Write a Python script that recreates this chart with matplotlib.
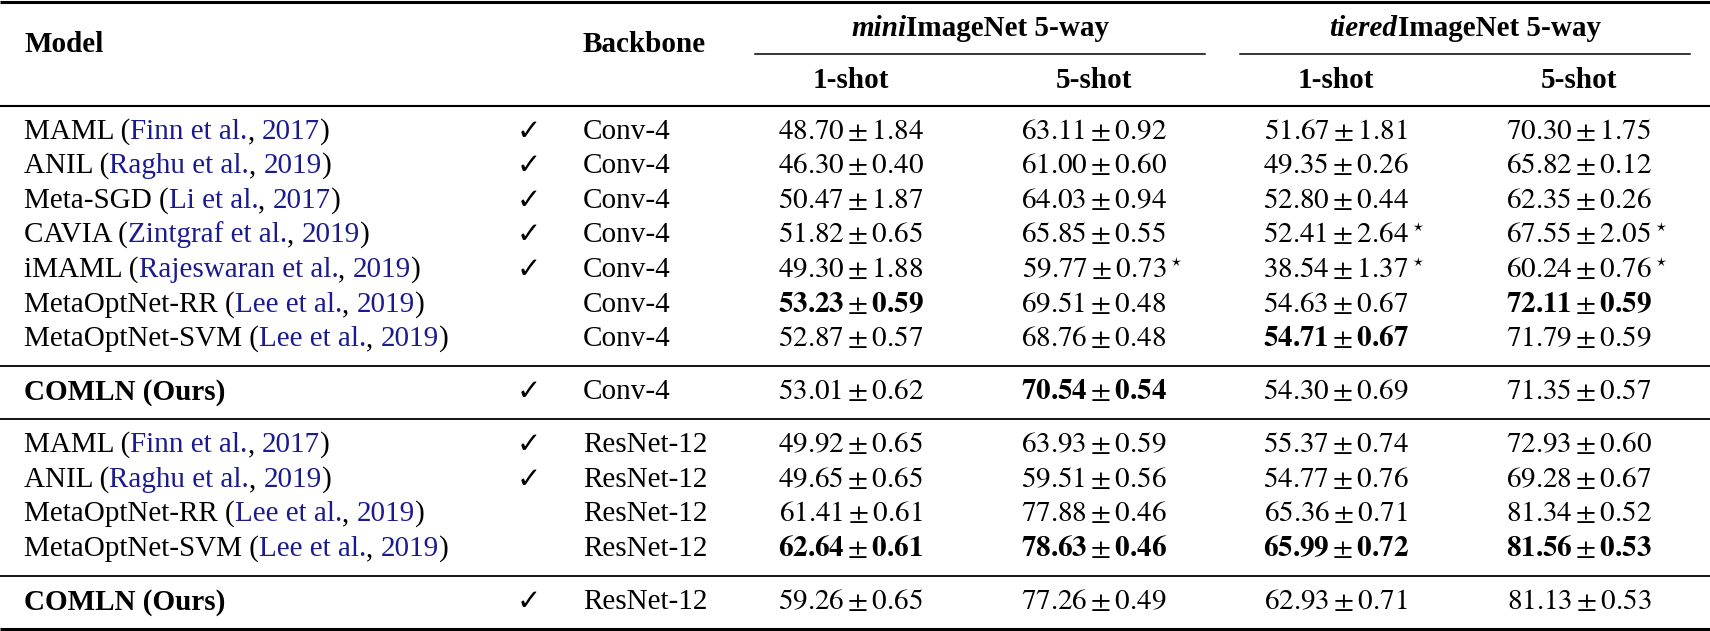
import matplotlib
matplotlib.use("Agg")
import matplotlib.pyplot as plt

plt.rcParams['font.family'] = ['Liberation Serif', 'DejaVu Serif']
plt.rcParams['mathtext.fontset'] = 'stix'

BLUE = '#1b1b8f'
FS = 21

# (name, cite authors, cite year, checkmark, backbone, values, bold flags, star flags)
models = ["MAML", "ANIL", "Meta-SGD", "CAVIA", "iMAML", "MetaOptNet-RR", "MetaOptNet-SVM", "COMLN (Ours)",
          "MAML", "ANIL", "MetaOptNet-RR", "MetaOptNet-SVM", "COMLN (Ours)"]
cite_auth = ["Finn et al.", "Raghu et al.", "Li et al.", "Zintgraf et al.", "Rajeswaran et al.", "Lee et al.",
             "Lee et al.", None, "Finn et al.", "Raghu et al.", "Lee et al.", "Lee et al.", None]
cite_year = ["2017", "2019", "2017", "2019", "2019", "2019", "2019", None, "2017", "2019", "2019", "2019", None]
checks = [1, 1, 1, 1, 1, 0, 0, 1, 1, 1, 0, 0, 1]
backbones = ["Conv-4"] * 8 + ["ResNet-12"] * 5
means = [
    [48.70, 63.11, 51.67, 70.30],
    [46.30, 61.00, 49.35, 65.82],
    [50.47, 64.03, 52.80, 62.35],
    [51.82, 65.85, 52.41, 67.55],
    [49.30, 59.77, 38.54, 60.24],
    [53.23, 69.51, 54.63, 72.11],
    [52.87, 68.76, 54.71, 71.79],
    [53.01, 70.54, 54.30, 71.35],
    [49.92, 63.93, 55.37, 72.93],
    [49.65, 59.51, 54.77, 69.28],
    [61.41, 77.88, 65.36, 81.34],
    [62.64, 78.63, 65.99, 81.56],
    [59.26, 77.26, 62.93, 81.13],
]
errs = [
    [1.84, 0.92, 1.81, 1.75],
    [0.40, 0.60, 0.26, 0.12],
    [1.87, 0.94, 0.44, 0.26],
    [0.65, 0.55, 2.64, 2.05],
    [1.88, 0.73, 1.37, 0.76],
    [0.59, 0.48, 0.67, 0.59],
    [0.57, 0.48, 0.67, 0.59],
    [0.62, 0.54, 0.69, 0.57],
    [0.65, 0.59, 0.74, 0.60],
    [0.65, 0.56, 0.76, 0.67],
    [0.61, 0.46, 0.71, 0.52],
    [0.61, 0.46, 0.72, 0.53],
    [0.65, 0.49, 0.71, 0.53],
]
bold = [(5, 0), (5, 3), (6, 2), (7, 1), (11, 0), (11, 1), (11, 2), (11, 3)]
star = [(3, 2), (3, 3), (4, 1), (4, 2), (4, 3)]

row_y = [132, 166, 201, 235, 270, 305, 339, 392, 445, 480, 514, 549, 602]
col_x = [851, 1094, 1336, 1579]

fig = plt.figure(figsize=(17.1, 6.31), dpi=100)
ax = fig.add_axes([0, 0, 1, 1])
ax.set_xlim(0, 1710)
ax.set_ylim(631, 0)
ax.axis('off')
fig.canvas.draw()
renderer = fig.canvas.get_renderer()


def pieces(x, y, parts, **kw):
    # draw consecutive text pieces, each (string, color, weight)
    for s, c, w in parts:
        t = ax.text(x, y, s, color=c, fontweight=w, fontsize=FS, va='center', ha='left', **kw)
        bb = t.get_window_extent(renderer)
        x += bb.width * 1710 / fig.bbox.width


# rules
for y, lw in [(1.5, 2.2), (106, 1.5), (366, 1.3), (419, 1.3), (576, 1.3), (629, 2.2)]:
    ax.plot([0, 1710], [y, y], color='black', lw=lw, solid_capstyle='butt')
ax.plot([755, 1205], [54, 54], color='black', lw=1.1)
ax.plot([1240, 1690], [54, 54], color='black', lw=1.1)

# headers
ax.text(24, 44, "Model", fontsize=FS, fontweight='bold', va='center')
ax.text(583, 44, "Backbone", fontsize=FS, fontweight='bold', va='center')
for cx, pre in [(980, "mini"), (1465, "tiered")]:
    t1 = ax.text(0, 29, pre, fontsize=FS, fontweight='bold', style='italic', va='center')
    t2 = ax.text(0, 29, "ImageNet 5-way", fontsize=FS, fontweight='bold', va='center')
    w1 = t1.get_window_extent(renderer).width * 1710 / fig.bbox.width
    w2 = t2.get_window_extent(renderer).width * 1710 / fig.bbox.width
    t1.set_x(cx - (w1 + w2) / 2)
    t2.set_x(cx - (w1 + w2) / 2 + w1)
for cx, lab in zip(col_x, ["1-shot", "5-shot", "1-shot", "5-shot"]):
    ax.text(cx, 80, lab, fontsize=FS, fontweight='bold', ha='center', va='center')

# body
for i, y in enumerate(row_y):
    if cite_auth[i] is None:
        pieces(24, y, [(models[i], 'black', 'bold')])
    else:
        pieces(24, y, [(models[i] + " (", 'black', 'normal'), (cite_auth[i], BLUE, 'normal'),
                       (", ", 'black', 'normal'), (cite_year[i], BLUE, 'normal'), (")", 'black', 'normal')])
    if checks[i]:
        ax.text(529, y, "\u2713", fontsize=FS, family='DejaVu Sans', ha='center', va='center')
    ax.text(583, y, backbones[i], fontsize=FS, va='center')
    for j in range(4):
        m, e = "%.2f" % means[i][j], "%.2f" % errs[i][j]
        if (i, j) in bold:
            s = r"$\mathbf{%s} \pm \mathbf{%s}$" % (m, e)
        else:
            s = r"$%s \pm %s$" % (m, e)
        ax.text(col_x[j], y, s, fontsize=FS, ha='center', va='center')
        if (i, j) in star:
            ax.text(col_x[j] + 82, y - 8, r"$\star$", fontsize=11, ha='center', va='center')

fig.savefig("out.png", dpi=100)
